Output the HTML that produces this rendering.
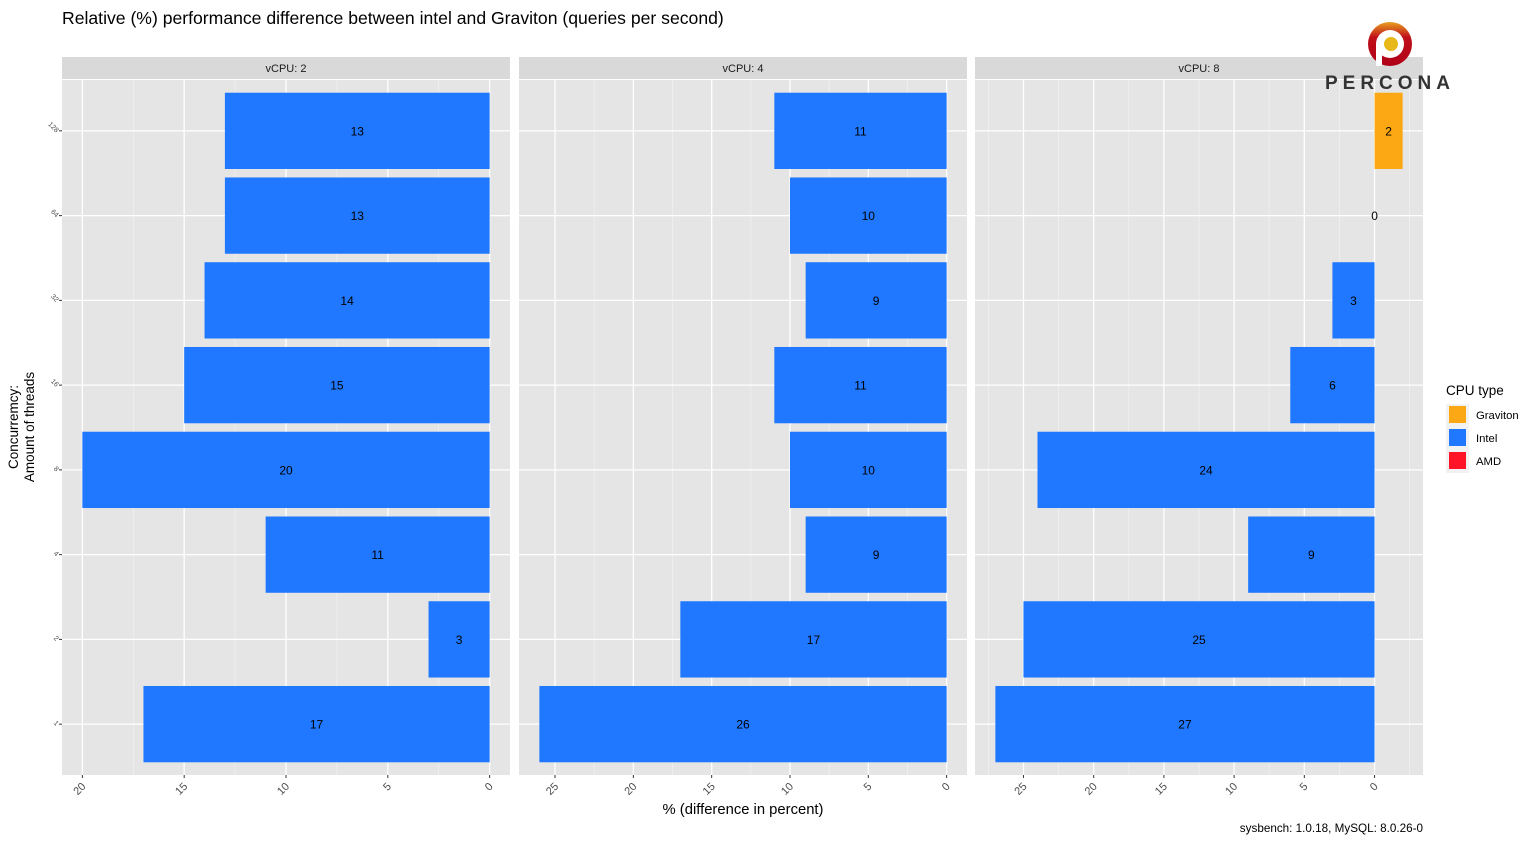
<!DOCTYPE html>
<html><head><meta charset="utf-8">
<style>
html,body{margin:0;padding:0;background:#fff;}
svg{display:block;font-family:"Liberation Sans",Arial,sans-serif;}
</style></head>
<body>
<svg id="chart" width="1536" height="864" viewBox="0 0 1536 864">
<text x="62" y="24" font-size="17.6" fill="#000">Relative (%) performance difference between intel and Graviton (queries per second)</text>
<g id="panels"></g>
<text x="743" y="814" font-size="14.8" text-anchor="middle">% (difference in percent)</text>
<g transform="translate(25,427) rotate(-90)">
<text x="0" y="-7" font-size="13.5" text-anchor="middle">Concurremcy:</text>
<text x="0" y="9" font-size="13.5" text-anchor="middle">Amount of threads</text>
</g>
<text x="1423" y="832" font-size="11.7" text-anchor="end">sysbench: 1.0.18, MySQL: 8.0.26-0</text>
<g>
<text x="1446" y="395" font-size="13.5">CPU type</text>
<rect x="1446" y="404" width="23" height="69" fill="#f2f2f2"/>
<rect x="1449" y="406" width="17" height="17" fill="#FCA814"/>
<text x="1476" y="419" font-size="11.3">Graviton</text>
<rect x="1449" y="429" width="17" height="17" fill="#1F78FF"/>
<text x="1476" y="442" font-size="11.3">Intel</text>
<rect x="1449" y="452" width="17" height="17" fill="#FF1428"/>
<text x="1476" y="465" font-size="11.3">AMD</text>
</g>
<g>
<defs><linearGradient id="lg" x1="0" y1="0" x2="0" y2="1"><stop offset="0" stop-color="#e8a020"/><stop offset="0.35" stop-color="#c0101a"/><stop offset="1" stop-color="#b00018"/></linearGradient></defs>
<circle cx="1390" cy="44" r="22" fill="url(#lg)"/>
<circle cx="1390" cy="44" r="14" fill="#fff"/>
<rect x="1376" y="44" width="6" height="22" fill="#fff"/>
<circle cx="1391" cy="44" r="7" fill="#E8B81A"/>
<text x="1390" y="89" font-size="19" font-weight="bold" fill="#333" text-anchor="middle" letter-spacing="5">PERCONA</text>
</g>
</svg>
<script>
const categories = ["1","2","4","8","16","32","64","128"];
const panelTitles = ["vCPU: 2","vCPU: 4","vCPU: 8"];
const vcpu2Values = [17,3,11,20,15,14,13,13];
const vcpu4Values = [26,17,9,10,11,9,10,11];
const vcpu8Values = [27,25,9,24,6,3,0,2];
const vcpu8Types = ["Intel","Intel","Intel","Intel","Intel","Intel","Intel","Graviton"];
const vcpu2Ticks = [20,15,10,5,0];
const vcpu4Ticks = [25,20,15,10,5,0];
const vcpu8Ticks = [25,20,15,10,5,0];

const NS = "http://www.w3.org/2000/svg";
const g = document.getElementById("panels");
function mk(tag, attrs, parent){
  const e = document.createElementNS(NS, tag);
  for (const k in attrs) e.setAttribute(k, attrs[k]);
  (parent||g).appendChild(e);
  return e;
}
const colors = {Intel:"#1F78FF", Graviton:"#FCA814", AMD:"#FF1428"};
const plotTop = 80, plotBot = 775;
const n = categories.length;
const step = (plotBot - plotTop) / (n + 0.2);
function yPos(i){ return plotBot - step*(0.6 + i); }

const panels = [
  {x0:62, vals:vcpu2Values, types:null, ticks:vcpu2Ticks},
  {x0:519, vals:vcpu4Values, types:null, ticks:vcpu4Ticks},
  {x0:975, vals:vcpu8Values, types:vcpu8Types, ticks:vcpu8Ticks}
];
const W = 448;
panels.forEach((p, pi) => {
  const signed = p.vals.map((v,i) => (p.types && p.types[i]==="Graviton") ? v : -v);
  let lo = Math.min(0, ...signed), hi = Math.max(0, ...signed);
  const pad = (hi - lo) * 0.05; lo -= pad; hi += pad;
  const xs = v => p.x0 + (v - lo) / (hi - lo) * W;
  const pg = mk("g", {});
  
  
  mk("rect", {x:p.x0, y:plotTop, width:W, height:plotBot-plotTop, fill:"#e5e5e5"}, pg);
  const st = mk("rect", {x:p.x0, y:57, width:W, height:22, fill:"#d9d9d9"}, pg);
  
  
  const stt = mk("text", {x:p.x0+W/2, y:72, "font-size":"11", "text-anchor":"middle", fill:"#1a1a1a"}, pg);
  stt.textContent = panelTitles[pi];
  
  
  for (let v = Math.ceil(lo/2.5)*2.5; v <= hi; v += 2.5) {
    if (Math.abs(v % 5) > 0.01) mk("line", {x1:xs(v), x2:xs(v), y1:plotTop, y2:plotBot, stroke:"#f2f2f2", "stroke-width":"0.7"}, pg);
  }
  p.ticks.forEach(t => {
    const x = xs(-t);
    mk("line", {x1:x, x2:x, y1:plotTop, y2:plotBot, stroke:"#fff", "stroke-width":"1.3"}, pg);
    mk("line", {x1:x, x2:x, y1:plotBot, y2:plotBot+3, stroke:"#333", "stroke-width":"1"}, pg);
    const tl = mk("text", {transform:`translate(${x+4},${plotBot+12}) rotate(-45)`, "font-size":"11", "text-anchor":"end", fill:"#4d4d4d"}, pg);
    tl.textContent = t;
    
    
  });
  categories.forEach((c, i) => {
    const y = yPos(i);
    mk("line", {x1:p.x0, x2:p.x0+W, y1:y, y2:y, stroke:"#fff", "stroke-width":"1.3"}, pg);
    if (pi === 0) {
      mk("line", {x1:p.x0-3, x2:p.x0, y1:y, y2:y, stroke:"#333", "stroke-width":"1"});
      const yl = mk("text", {transform:`translate(${p.x0-6},${y+2}) rotate(45)`, "font-size":"7", "text-anchor":"end", fill:"#4d4d4d"});
      yl.textContent = c;
      
      
    }
  });
  signed.forEach((v, i) => {
    const y = yPos(i), h = step*0.9;
    const x1 = xs(Math.min(0,v)), x2 = xs(Math.max(0,v));
    const type = p.types ? p.types[i] : "Intel";
    const b = mk("rect", {x:x1, y:y-h/2, width:x2-x1, height:h, fill:colors[type]}, pg);
    
    
    const lb = mk("text", {x:xs(v/2), y:y+4.5, "font-size":"12", "text-anchor":"middle", fill:"#000"}, pg);
    lb.textContent = p.vals[i];
    
    
  });
});
</script>
</body></html>
